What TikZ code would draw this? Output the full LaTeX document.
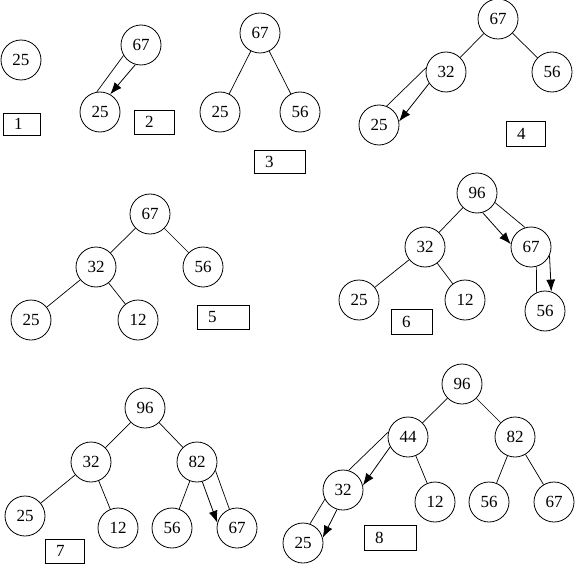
\documentclass[tikz,border=0pt]{standalone}
\usepackage{fontspec}
\setmainfont{Liberation Serif}
\usetikzlibrary{arrows.meta}
\begin{document}
\begin{tikzpicture}[x=1pt,y=-1pt,
  nd/.style={draw,circle,minimum size=40pt,inner sep=0pt,line width=0.8pt,font=\fontsize{17}{19}\selectfont},
  numbox/.style={draw,line width=0.9pt,inner xsep=11pt,inner ysep=0pt,align=left,font=\fontsize{17}{19}\selectfont},
  ed/.style={line width=0.7pt},
  ar/.style={line width=0.8pt,-{Latex[length=12pt,width=9pt]}}]
\useasboundingbox (0,0) rectangle (580,580);
% tree 1
\node[nd] (a1) at (21,60) {25};
\node[numbox,text width=15pt,minimum height=22pt] (b1) at (21.5,124) {1};
% tree 2
\node[nd] (c67) at (141,45) {67};
\node[nd] (c25) at (100,112) {25};
\draw[ed] (c67.211) -- (c25.99);
\draw[ar] (c67.254) -- (c25.60);
\node[numbox,text width=18pt,minimum height=24pt] (b2) at (154,122) {2};
% tree 3
\node[nd] (d67) at (260,33) {67};
\node[nd] (d25) at (220,112) {25};
\node[nd] (d56) at (300,112) {56};
\draw[ed] (d67) -- (d25);
\draw[ed] (d67) -- (d56);
\node[numbox,text width=29pt,minimum height=23pt] (b3) at (279.5,161.5) {3};
% tree 4
\node[nd] (e67) at (498,19) {67};
\node[nd] (e32) at (446,72) {32};
\node[nd] (e56) at (552,72) {56};
\node[nd] (e25) at (379,125) {25};
\draw[ed] (e67) -- (e32);
\draw[ed] (e67) -- (e56);
\draw[ed] (e32.168) -- (e25.68);
\draw[ar] (e32.214) -- (e25.10);
\node[numbox,text width=17pt,minimum height=25pt] (b4) at (525.5,133.5) {4};
% tree 5
\node[nd] (f67) at (150,214) {67};
\node[nd] (f32) at (96,267) {32};
\node[nd] (f56) at (203,267) {56};
\node[nd] (f25) at (31,320) {25};
\node[nd] (f12) at (138,320) {12};
\draw[ed] (f67) -- (f32);
\draw[ed] (f67) -- (f56);
\draw[ed] (f32) -- (f25);
\draw[ed] (f32) -- (f12);
\node[numbox,text width=30pt,minimum height=24pt] (b5) at (223,317) {5};
% tree 6
\node[nd] (g96) at (477,193) {96};
\node[nd] (g32) at (425,247) {32};
\node[nd] (g67) at (531,247) {67};
\node[nd] (g25) at (359,300) {25};
\node[nd] (g12) at (465,300) {12};
\node[nd] (g56) at (545,311) {56};
\draw[ed] (g96) -- (g32);
\draw[ed] (g32) -- (g25);
\draw[ed] (g32) -- (g12);
\draw[ed] (g96.332) -- (g67.107);
\draw[ar] (g96.286) -- (g67.172);
\draw[ed] (g67.286) -- (g56.115);
\draw[ar] (g67.335) -- (g56.72);
\node[numbox,text width=19pt,minimum height=25pt] (b6) at (411.5,321.5) {6};
% tree 7
\node[nd] (h96) at (145,408) {96};
\node[nd] (h32) at (91,462) {32};
\node[nd] (h82) at (197,462) {82};
\node[nd] (h25) at (25,516) {25};
\node[nd] (h12) at (118,528) {12};
\node[nd] (h56) at (172,528) {56};
\node[nd] (h67) at (237,528) {67};
\draw[ed] (h96) -- (h32);
\draw[ed] (h96) -- (h82);
\draw[ed] (h32) -- (h25);
\draw[ed] (h32) -- (h12);
\draw[ed] (h82) -- (h56);
\draw[ed] (h82.335) -- (h67.112);
\draw[ar] (h82.285) -- (h67.165);
\node[numbox,text width=17pt,minimum height=24pt] (b7) at (64.5,551) {7};
% tree 8
\node[nd] (k96) at (462,384) {96};
\node[nd] (k44) at (408,437) {44};
\node[nd] (k82) at (515,437) {82};
\node[nd] (k32) at (343,490) {32};
\node[nd] (k12) at (435,502) {12};
\node[nd] (k56) at (489,502) {56};
\node[nd] (k67) at (554,502) {67};
\node[nd] (k25) at (303,543) {25};
\draw[ed] (k96) -- (k44);
\draw[ed] (k96) -- (k82);
\draw[ed] (k44) -- (k12);
\draw[ed] (k82) -- (k56);
\draw[ed] (k82) -- (k67);
\draw[ed] (k44.166) -- (k32.74);
\draw[ar] (k44.209) -- (k32.13);
\draw[ed] (k32.207) -- (k25.70);
\draw[ar] (k32.253) -- (k25.15);
\node[numbox,text width=30pt,minimum height=25pt] (b8) at (390,537.5) {8};
\end{tikzpicture}
\end{document}
